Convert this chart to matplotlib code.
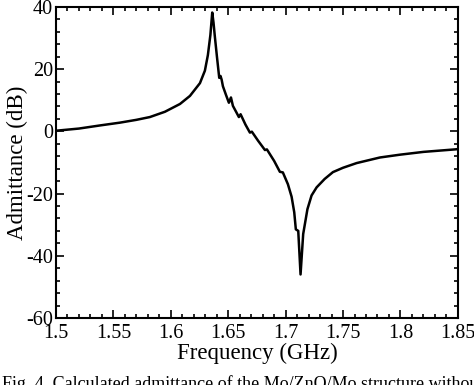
import matplotlib
matplotlib.use("Agg")
import matplotlib.pyplot as plt
from matplotlib.ticker import MultipleLocator

freq = [1.500, 1.520, 1.5383, 1.5557, 1.5700, 1.5818, 1.5949, 1.6080, 1.6167, 1.6254,
        1.6297, 1.6323, 1.6345, 1.6361, 1.6372, 1.6384, 1.6402, 1.6422, 1.6433, 1.6443,
        1.6454, 1.6480, 1.6506, 1.6524, 1.6541, 1.6570, 1.6593, 1.6608, 1.6650, 1.6689,
        1.6706, 1.6760, 1.6820, 1.6837, 1.6900, 1.6950, 1.6976, 1.7020, 1.7052, 1.7075,
        1.7089, 1.7110, 1.7130, 1.7153, 1.7190, 1.7226, 1.7270, 1.7340, 1.7412, 1.7500,
        1.7618, 1.7821, 1.7995, 1.8200, 1.8474, 1.8500]
admittance = [0.2, 0.9, 1.9, 2.8, 3.7, 4.6, 6.3, 8.8, 11.4, 15.5,
              19.5, 24.5, 31.0, 38.2, 35.0, 30.4, 24.0, 17.2, 17.8, 16.6,
              14.5, 11.8, 9.2, 10.9, 8.2, 6.2, 4.6, 5.5, 2.2, -0.4,
              -0.1, -3.0, -6.0, -5.8, -9.5, -13.0, -13.2, -17.0, -21.0, -26.0,
              -31.5, -32.0, -46.0, -33.0, -25.0, -20.6, -18.0, -15.3, -13.1, -11.7,
              -10.2, -8.4, -7.5, -6.6, -5.8, -5.7]

xticks = [1.5, 1.55, 1.6, 1.65, 1.7, 1.75, 1.8, 1.85]
xticklabels = ["1.5", "1.55", "1.6", "1.65", "1.7", "1.75", "1.8", "1.85"]
yticks = [-60, -40, -20, 0, 20, 40]
yticklabels = ["-60", "-40", "-20", "0", "20", "40"]

plt.rcParams['font.family'] = ['Liberation Serif', 'DejaVu Serif']

fig = plt.figure(figsize=(4.74, 3.85), dpi=100)
ax = fig.add_axes([0.118, 0.174, 0.966 - 0.118, 0.982 - 0.174])
ax.plot(freq, admittance, color='black', lw=1.8)
ax.set_xlim(1.5, 1.85)
ax.set_ylim(-60, 40)
ax.set_xticks(xticks)
ax.set_xticklabels(xticklabels)
ax.set_yticks(yticks)
ax.set_yticklabels(yticklabels)
ax.xaxis.set_minor_locator(MultipleLocator(0.01))
ax.yaxis.set_minor_locator(MultipleLocator(4))
ax.tick_params(which='both', direction='in', top=True, right=True, labelsize=14.5, width=1.2)
ax.tick_params(which='major', length=6)
ax.tick_params(which='minor', length=3)
ax.tick_params(axis='x', which='major', pad=4)
ax.tick_params(axis='y', which='major', pad=2)
for s in ax.spines.values():
    s.set_linewidth(1.5)
ax.set_xlabel("Frequency (GHz)", fontsize=16.5, labelpad=0)
ax.set_ylabel("Admittance (dB)", fontsize=16.5, labelpad=-1)
fig.text(0.004, 0.026, "Fig. 4. Calculated admittance of the Mo/ZnO/Mo structure without",
         fontsize=13, va='top', ha='left')
fig.savefig("out.png", dpi=100)
